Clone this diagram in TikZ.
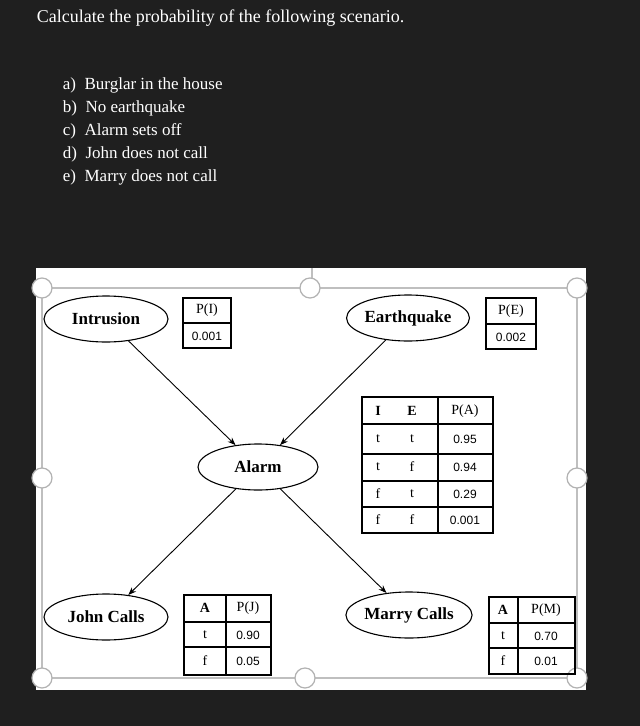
\documentclass[tikz,border=0pt]{standalone}
\usepackage{fontspec}
\setmainfont{Liberation Serif}
\newfontfamily\arl{Liberation Sans}
\usetikzlibrary{arrows.meta,shapes.geometric}
\definecolor{bg}{HTML}{1F1F1F}
\begin{document}
\begin{tikzpicture}[x=1pt,y=-1pt,line width=1.1pt,
  ell/.style={draw,ellipse,minimum width=#1,minimum height=46,inner sep=0,line width=1.1pt,font=\fontsize{17}{19}\selectfont\bfseries},
  ell/.default=124,
  hd/.style={font=\fontsize{14}{16}\selectfont},
  num/.style={font=\arl\fontsize{12}{14}\selectfont},
  hdl/.style={circle,draw=gray!60,fill=white,line width=1.2pt,minimum size=20,inner sep=0},
  arr/.style={-{Stealth[length=8pt,width=6pt]},line width=0.9pt}]
\fill[bg] (0,0) rectangle (640,726);
\node[anchor=west,text=white,font=\fontsize{18}{20}\selectfont] (title) at (33,18) {Calculate the probability of the following scenario.};
\foreach \t [count=\i] in {a)\enspace Burglar in the house, b)\enspace No earthquake, c)\enspace Alarm sets off, d)\enspace John does not call, e)\enspace Marry does not call}
  \node[anchor=west,text=white,font=\fontsize{17}{19}\selectfont] (l\i) at (59,62+23*\i) {\t};
\fill[white] (36,268) rectangle (586,690);
\draw[gray!50,line width=1.5pt] (42,288) rectangle (577,678);
\draw[gray!50,line width=1.2pt] (312,268) -- (312,286);
\foreach \p [count=\i] in {(42,288),(310,288),(577,288),(42,478),(577,478),(42,678),(305,678),(577,678)}
  \node[hdl] (h\i) at \p {};
% nodes
\node[ell] (I) at (106,319) {Intrusion};
\node[ell=120] (E) at (408,318) {Earthquake};
\node[ell=120] (A) at (258,467) {Alarm};
\node[ell] (J) at (106,617) {John Calls};
\node[ell] (M) at (409,615) {Marry Calls};
\draw[arr] (I) -- (A);
\draw[arr] (E) -- (A);
\draw[arr] (A) -- (J);
\draw[arr] (A) -- (M);
% P(I)
\draw (183,298) rectangle (231,348); \draw (183,323) -- (231,323);
\node[hd] (pi) at (207,310) {P(I)}; \node[num] (pi1) at (207,336) {0.001};
% P(E)
\draw (486,298) rectangle (536,349); \draw (486,324) -- (536,324);
\node[hd] (pe) at (511,311) {P(E)}; \node[num] (pe1) at (511,337) {0.002};
% P(A)
\draw (362,397) rectangle (493,533); \draw (438,397) -- (438,533);
\draw (362,424) -- (493,424); \draw (362,454) -- (493,454);
\draw (362,481) -- (493,481); \draw (362,507) -- (493,507);
\node[hd,font=\fontsize{14}{16}\selectfont\bfseries] (ai) at (378,411) {I};
\node[hd,font=\fontsize{14}{16}\selectfont\bfseries] (ae) at (412,411) {E};
\node[hd] (ap) at (465,411) {P(A)};
\foreach \a/\b/\v/\y [count=\k] in {t/t/0.95/439,t/f/0.94/467,f/t/0.29/494,f/f/0.001/520}{
  \node[hd] (ar\k a) at (378,\y) {\a}; \node[hd] (ar\k b) at (412,\y) {\b}; \node[num] (ar\k c) at (465,\y) {\v};}
% P(J)
\draw (184,595) rectangle (271,675); \draw (226,595) -- (226,675);
\draw (184,622) -- (271,622); \draw (184,647) -- (271,647);
\node[hd,font=\fontsize{14}{16}\selectfont\bfseries] (ja) at (205,608) {A}; \node[hd] (jp) at (248,608) {P(J)};
\node[hd] (j1) at (205,635) {t}; \node[num] (j1v) at (248,635) {0.90};
\node[hd] (j2) at (205,661) {f}; \node[num] (j2v) at (248,661) {0.05};
% P(M)
\draw (489,597) rectangle (575,674); \draw (518,597) -- (518,674);
\draw (489,623) -- (575,623); \draw (489,648) -- (575,648);
\node[hd,font=\fontsize{14}{16}\selectfont\bfseries] (ma) at (503,610) {A}; \node[hd] (mp) at (546,610) {P(M)};
\node[hd] (m1) at (503,636) {t}; \node[num] (m1v) at (546,636) {0.70};
\node[hd] (m2) at (503,661) {f}; \node[num] (m2v) at (546,661) {0.01};
\end{tikzpicture}
\end{document}
